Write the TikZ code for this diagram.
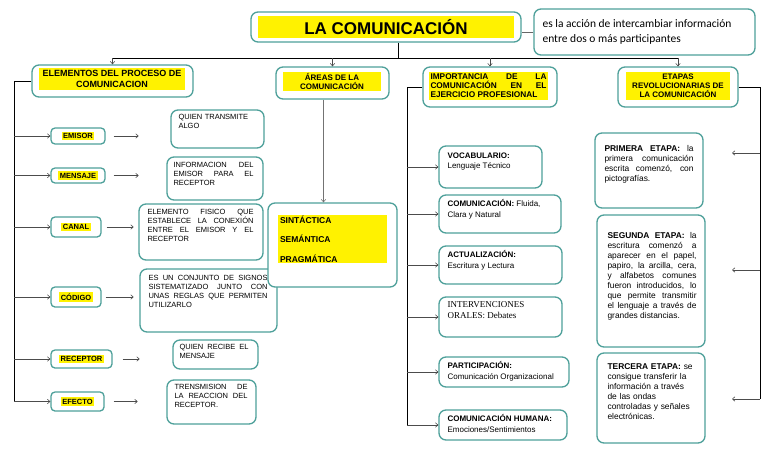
\documentclass[tikz,border=0pt]{standalone}
\usepackage{fontspec}
\setmainfont{Liberation Sans}
\newfontfamily\carlito{Carlito}
\newfontfamily\tnr{Liberation Serif}
\usetikzlibrary{arrows.meta}
\definecolor{boxline}{RGB}{78,160,154}
\newcommand{\hlt}[1]{{\setlength{\fboxsep}{1.5pt}\colorbox{yellow}{#1}}}

\begin{document}
\begin{tikzpicture}[x=1pt, y=-1pt,
  box/.style={draw=boxline, line width=1.3pt, rounded corners=7pt, fill=white, inner sep=0pt},
  yel/.style={fill=yellow, inner sep=0pt, font=\fontsize{8}{9}\selectfont\bfseries},
  elbox/.style={box, rounded corners=4pt, font=\fontsize{7.5}{9}\selectfont\bfseries},
  desc/.style={anchor=north west, inner sep=0pt, align=justify, font=\fontsize{7.5}{9}\selectfont},
  entry/.style={anchor=north west, inner sep=0pt, align=left, font=\fontsize{8}{10.5}\selectfont},
  stage/.style={anchor=north west, inner sep=0pt, align=justify, text width=89pt, font=\fontsize{8.4}{10}\selectfont},
  trunk/.style={draw=black, line width=0.9pt},
  feed/.style={draw=black!70, line width=0.6pt, -{Straight Barb[length=2.5pt,width=4.5pt]}}]
  \fill[white] (0,0) rectangle (768,466);
  \useasboundingbox (0,0) rectangle (768,466);

  \node[box, minimum width=270, minimum height=30] (title) at (386,27) {};
  \node[yel, minimum width=256, minimum height=22, font=\fontsize{17}{20}\selectfont\bfseries] (title-t) at (386,27) {LA COMUNICACIÓN};
  \node[box, minimum width=221, minimum height=46] (def) at (644.5,32) {};
  \node[anchor=west, inner sep=0pt, align=left, font=\carlito\fontsize{11.5}{15}\selectfont] (def-t) at ([xshift=9pt]def.west) {es la acción de intercambiar información\\entre dos o más participantes};

  \node[box, minimum width=161, minimum height=32] (elem) at (112.5,81) {};
  \node[yel, minimum width=146, minimum height=22, align=center, font=\fontsize{9}{10.5}\selectfont\bfseries] (elem-t) at (112,79) {ELEMENTOS DEL PROCESO DE\\COMUNICACION};
  \node[box, minimum width=113, minimum height=32] (area) at (332.5,83) {};
  \node[yel, minimum width=98, minimum height=19, align=center] (area-t) at (332,81.5) {ÁREAS DE LA\\COMUNICACIÓN};
  \node[box, minimum width=134, minimum height=40] (imp) at (490,87) {};
  \node[yel, minimum width=119, minimum height=28, text width=116, align=justify, font=\fontsize{8.3}{9}\selectfont\bfseries] (imp-t) at (488.5,86) {IMPORTANCIA DE LA\linebreak COMUNICACIÓN EN EL\linebreak EJERCICIO PROFESIONAL};
  \node[box, minimum width=120, minimum height=40] (etap) at (678,87) {};
  \node[yel, minimum width=104, minimum height=28, align=center] (etap-t) at (678,86) {ETAPAS\\REVOLUCIONARIAS DE\\LA COMUNICACIÓN};

  \node[elbox, minimum width=54, minimum height=16] (emisor) at (78,136) {\hlt{EMISOR}};
  \node[elbox, minimum width=54, minimum height=15] (mensaje) at (78,175.5) {\hlt{MENSAJE}};
  \node[elbox, minimum width=50, minimum height=20] (canal) at (76,227) {\hlt{CANAL}};
  \node[elbox, minimum width=50, minimum height=20] (codigo) at (76,297) {\hlt{CÓDIGO}};
  \node[elbox, minimum width=61, minimum height=18] (receptor) at (81.5,359) {\hlt{RECEPTOR}};
  \node[elbox, minimum width=53, minimum height=19] (efecto) at (77.5,401.5) {\hlt{EFECTO}};

  \node[box, minimum width=93, minimum height=38] (d-emisor) at (217.5,129) {};
  \node[desc, align=left, text width=76] (t-emisor) at ([shift={(8,5)}]d-emisor.north west) {QUIEN TRANSMITE\\ALGO};
  \node[box, minimum width=96, minimum height=43] (d-mensaje) at (215,178.5) {};
  \node[desc, text width=80] (t-mensaje) at ([shift={(7,6)}]d-mensaje.north west) {INFORMACION DEL\linebreak EMISOR PARA EL\linebreak RECEPTOR};
  \node[box, minimum width=124, minimum height=56] (d-canal) at (201,232) {};
  \node[desc, text width=106] (t-canal) at ([shift={(9,6)}]d-canal.north west) {ELEMENTO FISICO QUE\linebreak ESTABLECE LA CONEXIÓN\linebreak ENTRE EL EMISOR Y EL\linebreak RECEPTOR};
  \node[box, minimum width=137, minimum height=63] (d-codigo) at (208.5,300.5) {};
  \node[desc, text width=119] (t-codigo) at ([shift={(9,7)}]d-codigo.north west) {ES UN CONJUNTO DE SIGNOS\linebreak SISTEMATIZADO JUNTO CON\linebreak UNAS REGLAS QUE PERMITEN\linebreak UTILIZARLO};
  \node[box, minimum width=85, minimum height=29] (d-receptor) at (215.5,354.5) {};
  \node[desc, text width=69] (t-receptor) at ([shift={(7,5)}]d-receptor.north west) {QUIEN RECIBE EL\linebreak MENSAJE};
  \node[box, minimum width=89, minimum height=44] (d-efecto) at (211.5,402) {};
  \node[desc, text width=73] (t-efecto) at ([shift={(8,5)}]d-efecto.north west) {TRENSMISION DE\linebreak LA REACCION DEL\linebreak RECEPTOR.};

  \node[box, minimum width=129, minimum height=84] (list) at (332.5,245) {};
  \node[yel, minimum width=109, minimum height=48, text width=105, align=left, font=\fontsize{8.5}{19.5}\selectfont\bfseries] (list-t) at (332.5,239) {SINTÁCTICA\\SEMÁNTICA\\PRAGMÁTICA};

  \node[box, minimum width=103, minimum height=42] (voc) at (490.5,167) {};
  \node[entry] (voc-t) at ([shift={(9,7)}]voc.north west) {\textbf{VOCABULARIO:}\\Lenguaje Técnico};
  \node[box, minimum width=122, minimum height=38] (flu) at (500,214) {};
  \node[entry] (flu-t) at ([shift={(9,5)}]flu.north west) {\textbf{COMUNICACIÓN:} Fluida,\\Clara y Natural};
  \node[box, minimum width=123, minimum height=38] (act) at (500.5,265) {};
  \node[entry] (act-t) at ([shift={(9,5)}]act.north west) {\textbf{ACTUALIZACIÓN:}\\Escritura y Lectura};
  \node[box, minimum width=123, minimum height=40] (ora) at (500.5,317) {};
  \node[entry, font=\tnr\fontsize{9}{11}\selectfont] (ora-t) at ([shift={(9,5)}]ora.north west) {INTERVENCIONES\\ORALES: Debates};
  \node[box, minimum width=130, minimum height=30] (par) at (504,372) {};
  \node[entry] (par-t) at ([shift={(9,5)}]par.north west) {\textbf{PARTICIPACIÓN:}\\Comunicación Organizacional};
  \node[box, minimum width=128, minimum height=30] (hum) at (503,425) {};
  \node[entry] (hum-t) at ([shift={(9,5)}]hum.north west) {\textbf{COMUNICACIÓN HUMANA:}\\Emociones/Sentimientos};

  \node[box, minimum width=108, minimum height=75] (st1) at (649,170.5) {};
  \node[stage] (st1-t) at ([shift={(10,13)}]st1.north west) {\textbf{PRIMERA ETAPA:} la\linebreak primera comunicación\linebreak escrita comenzó, con\linebreak pictografías.};
  \node[box, minimum width=108, minimum height=132] (st2) at (651,281) {};
  \node[stage] (st2-t) at ([shift={(11,18)}]st2.north west) {\textbf{SEGUNDA ETAPA:} la\linebreak escritura comenzó a\linebreak aparecer en el papel,\linebreak papiro, la arcilla, cera,\linebreak y alfabetos comunes\linebreak fueron introducidos, lo\linebreak que permite transmitir\linebreak el lenguaje a través de\linebreak grandes distancias.};
  \node[box, minimum width=108, minimum height=90] (st3) at (651,398) {};
  \node[stage, align=left] (st3-t) at ([shift={(11,11)}]st3.north west) {\textbf{TERCERA ETAPA:} se\\consigue transferir la\\información a través\\de las ondas\\controladas y señales\\electrónicas.};

  \coordinate (bus) at (398,58);
  \coordinate (lt) at (14,0);
  \coordinate (mt) at (407,0);
  \coordinate (rt) at (760,0);
  \coordinate (r1) at (732,153);
  \coordinate (r2) at (732,270);
  \coordinate (r3) at (732,399);

  \draw[draw=black!60, line width=0.7pt] (def.west) -- (def.west -| title.east);
  \draw[trunk] (title.south -| bus) -- (bus);
  \draw[trunk] (elem.north |- bus) -- (etap.north |- bus);
  \foreach \n in {elem,area,imp,etap}
    \draw[feed] (\n.north |- bus) -- (\n.north);

  \draw[trunk] (elem.west) -- (elem.west -| lt) -- (efecto.west -| lt);
  \foreach \n in {emisor,mensaje,canal,codigo,receptor,efecto}
    \draw[feed] (\n.west -| lt) -- (\n.west);
  \foreach \n/\g/\l in {emisor/8/25, mensaje/8/25, canal/5/27, codigo/4/28, receptor/10/17, efecto/9/24}
    \draw[feed] ([xshift=\g pt]\n.east) -- ++(\l,0);

  \draw[feed, draw=black!55] ([xshift=-9pt]area.south) -- ([xshift=-9pt]list.north);

  \draw[trunk] (imp.west) -- (imp.west -| mt) -- (hum.west -| mt);
  \foreach \n in {voc,flu,act,ora,par,hum}
    \draw[feed] (\n.west -| mt) -- (\n.west);

  \draw[trunk] (etap.east) -- (etap.east -| rt) -- (r3 -| rt);
  \foreach \r in {r1,r2,r3}
    \draw[feed] (\r -| rt) -- (\r);
\end{tikzpicture}
\end{document}
